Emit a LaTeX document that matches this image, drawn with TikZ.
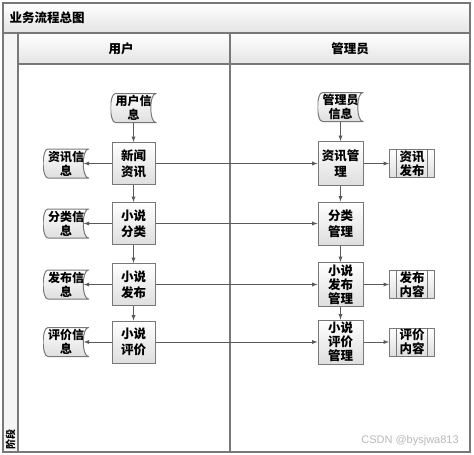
\documentclass[tikz,border=0pt]{standalone}
\usepackage{fontspec}
\newfontfamily\cjk{Noto Sans CJK SC}
\newfontfamily\wmfont{Liberation Sans}
\usepackage{tikz}
\usetikzlibrary{arrows}

\definecolor{framegray}{RGB}{120,120,120}
\definecolor{linegray}{RGB}{90,90,90}
\definecolor{boxgray}{RGB}{222,222,222}
\definecolor{bandgray}{RGB}{228,228,228}

\tikzset{
  frame/.style={draw=framegray,line width=1.4pt},
  proc/.style={draw=framegray,line width=1pt,top color=white,bottom color=boxgray,
    minimum width=43pt,minimum height=42pt,inner sep=1pt,align=center,
    font=\cjk\bfseries\fontsize{12.5}{14}\selectfont},
  store/.style={minimum width=46pt,minimum height=30pt,inner sep=0pt,align=center,
    font=\cjk\bfseries\fontsize{12}{14}\selectfont,
    path picture={
      \draw[framegray,line width=1pt,top color=white,bottom color=boxgray]
        ([shift={(5pt,-0.5pt)}]path picture bounding box.north west)
        .. controls ([shift={(-1.5pt,-0.5pt)}]path picture bounding box.north west)
        and ([shift={(-1.5pt,0.5pt)}]path picture bounding box.south west) ..
        ([shift={(5pt,0.5pt)}]path picture bounding box.south west)
        -- ([shift={(-0.5pt,0.5pt)}]path picture bounding box.south east)
        .. controls ([shift={(-7.5pt,0.5pt)}]path picture bounding box.south east)
        and ([shift={(-7.5pt,-0.5pt)}]path picture bounding box.north east) ..
        ([shift={(-0.5pt,-0.5pt)}]path picture bounding box.north east) -- cycle;}},
  sub/.style={draw=framegray,line width=1pt,top color=white,bottom color=boxgray,
    minimum width=45pt,minimum height=28pt,inner sep=0pt,align=center,
    font=\cjk\bfseries\fontsize{12.5}{14}\selectfont,
    path picture={
      \draw[framegray,line width=1pt]
        ([xshift=7pt]path picture bounding box.north west) -- ([xshift=7pt]path picture bounding box.south west)
        ([xshift=-7pt]path picture bounding box.north east) -- ([xshift=-7pt]path picture bounding box.south east);}},
  arr/.style={draw=linegray,line width=0.9pt,-latex},
  head/.style={font=\cjk\bfseries\fontsize{12.5}{14}\selectfont}
}

\begin{document}
\begin{tikzpicture}[x=1pt,y=-1pt]
\useasboundingbox (0,0) rectangle (474,455);
% swimlane frame
\fill[white] (0,0) rectangle (474,455);
\draw[frame,top color=white,bottom color=bandgray] (3,3) rectangle (470,33);
\draw[frame,fill=gray!8] (3,33) rectangle (18,452);
\draw[frame,top color=white,bottom color=bandgray] (18,33) rectangle (470,64);
\draw[frame] (230,33) -- (230,452);
\draw[frame] (3,3) rectangle (470,452);
\node[head,anchor=west] (title) at (6,18) {业务流程总图};
\node[head] (user) at (121,49) {用户};
\node[head] (admin) at (350,49) {管理员};
\node[head,font=\cjk\bfseries\fontsize{10}{12}\selectfont,rotate=90] (stage) at (10.5,439) {阶段};

% user lane
\node[store] (yhxx) at (133.5,108) {用户信\\息};
\node[proc] (xwzx) at (133.5,163.5) {新闻\\[2pt]资讯};
\node[store] (zxxx) at (66,163.5) {资讯信\\息};
\node[proc] (xsfl) at (133.5,223.5) {小说\\[2pt]分类};
\node[store] (flxx) at (66,223.5) {分类信\\息};
\node[proc] (xsfb) at (133.5,284.5) {小说\\[2pt]发布};
\node[store] (fbxx) at (66,284.5) {发布信\\息};
\node[proc] (xspj) at (133.5,342) {小说\\[2pt]评价};
\node[store] (pjxx) at (66,342) {评价信\\息};

% admin lane
\node[store] (glyxx) at (340.5,107) {管理员\\信息};
\node[proc,minimum width=45pt,minimum height=44pt] (zxgl) at (340.5,163.5) {资讯管\\[2pt]理};
\node[sub] (zxfb) at (412,163.5) {资讯\\发布};
\node[proc,minimum width=45pt,minimum height=43pt] (flgl) at (340.5,223.5) {分类\\[2pt]管理};
\node[proc,minimum width=45pt,minimum height=44pt] (fbgl) at (340.5,284.5) {小说\\发布\\管理};
\node[sub] (fbnr) at (412,284.5) {发布\\内容};
\node[proc,minimum width=45pt,minimum height=44pt] (pjgl) at (340.5,342) {小说\\评价\\管理};
\node[sub] (pjnr) at (412,342) {评价\\内容};

% arrows
\draw[arr] (yhxx) -- (xwzx);
\draw[arr] (xwzx) -- (xsfl);
\draw[arr] (xsfl) -- (xsfb);
\draw[arr] (xsfb) -- (xspj);
\draw[arr] (xwzx) -- ([xshift=-5.5pt]zxxx.east);
\draw[arr] (xsfl) -- ([xshift=-5.5pt]flxx.east);
\draw[arr] (xsfb) -- ([xshift=-5.5pt]fbxx.east);
\draw[arr] (xspj) -- ([xshift=-5.5pt]pjxx.east);
\draw[arr] (xwzx) -- (zxgl);
\draw[arr] (xsfl) -- (flgl);
\draw[arr] (xsfb) -- (fbgl);
\draw[arr] (xspj) -- (pjgl);
\draw[arr] (glyxx) -- (zxgl);
\draw[arr] (zxgl) -- (flgl);
\draw[arr] (flgl) -- (fbgl);
\draw[arr] (fbgl) -- (pjgl);
\draw[arr] (zxgl) -- (zxfb);
\draw[arr] (fbgl) -- (fbnr);
\draw[arr] (pjgl) -- (pjnr);

\node[text=gray!55,font=\wmfont\fontsize{11}{13}\selectfont] (mark) at (410,441) {CSDN @bysjwa813};
\end{tikzpicture}
\end{document}
